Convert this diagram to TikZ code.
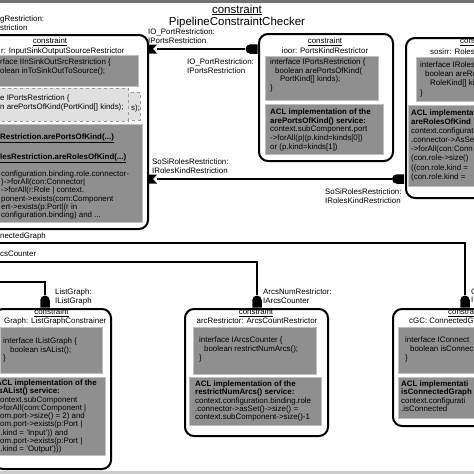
\documentclass[tikz,border=0pt]{standalone}
\usepackage{fontspec}
\setmainfont{Liberation Sans}
\usetikzlibrary{shapes.misc}
\definecolor{boxgray}{RGB}{143,143,143}

\begin{document}
\begin{tikzpicture}[
x=1pt, y=-1pt,
comp/.style={%
    rectangle, anchor=north west, inner sep=0pt,
    draw=black, line width=2pt, rounded corners=9pt, fill=white,
},
iface/.style={%
    rectangle, anchor=north west, inner sep=0pt,
    draw=black!25, line width=0.8pt, fill=boxgray,
},
dashbox/.style={%
    rectangle, anchor=north west, inner sep=0pt,
    draw=black!40, dashed, line width=0.8pt, fill=black!12,
},
txt/.style={inner sep=0pt, font=\fontsize{7.9}{8.7}\selectfont},
code/.style={txt, anchor=north west, align=left},
title/.style={inner sep=0pt, font=\fontsize{11.5}{13}\selectfont},
ball/.style={%
    rounded rectangle, rounded rectangle right arc=none,
    fill=black, inner sep=0pt, minimum width=12pt, minimum height=9.5pt,
},
wire/.style={draw=black, line width=2pt},
]
\useasboundingbox (0,0) rectangle (474,474);
\clip (0,0) rectangle (474,474);
\fill[black!55] (0,0) rectangle (474,2.5);
\fill[black!20] (0,471) rectangle (474,474);

% Nodes
\node[title]    at (237,10)     (ckw)           {\underline{constraint}};
\node[title]    at (237,23)     (checker)       {PipelineConstraintChecker};
\node[code]     at (0,15.5)     (toplbl)        {gRestriction:\\striction};

% left component
\node[comp, minimum width=194pt, minimum height=194pt] at (-47,34) (issor) {};
\node[txt]      at (50,42)      (issorkw)       {\underline{constraint}};
\node[txt, anchor=west] at (1,51) (issorname)   {r: InputSinkOutputSourceRestrictor};
\node[iface, minimum width=178pt, minimum height=31pt] at (-40,55) (issorif) {};
\node[code]     at (0,58.5)     (issoriftxt)    {rface IInSinkOutSrcRestriction \{\\olean inToSinkOutToSource();};
\node[dashbox, minimum width=170pt, minimum height=28pt] at (-30,92) (issorpr2) {};
\node[code]     at (131,104.5)  (issorpr2txt)   {s);};
\node[dashbox, minimum width=168pt, minimum height=33pt] at (-40,88) (issorpr) {};
\node[code]     at (0,94.5)     (issorprtxt)    {e IPortsRestriction \{\\n arePortsOfKind(PortKind[] kinds);};
\node[iface, minimum width=182pt, minimum height=98pt] at (-40,124) (issoracl) {};
\node[code]     at (0,133.5)    (issorsrv1)     {\textbf{\underline{Restriction.arePortsOfKind(...)}}};
\node[code]     at (0,153.5)    (issorsrv2)     {\textbf{\underline{lesRestriction.areRolesOfKind(...)}}};
\node[code, font=\fontsize{7.9}{8.2}\selectfont] at (1,170.5) (issorimpl) {configuration.binding.role.connector-\\)->forAll(con:Connector|\\->forAll(r:Role | context.\\ponent->exists(com:Component\\ert->exists(p:Port|(r in\\configuration.binding) and ...};

% ioor component
\node[comp, minimum width=134pt, minimum height=127pt] at (258,33) (ioor) {};
\node[txt]      at (325,42)     (ioorkw)        {\underline{constraint}};
\node[txt]      at (325,51)     (ioorname)      {ioor: PortsKindRestrictor};
\node[iface, minimum width=113pt, minimum height=44pt] at (265,56) (ioorif) {};
\node[code]     at (270,58.5)   (iooriftxt)     {interface IPortsRestriction \{\\\hspace*{5pt}boolean arePortsOfKind(\\\hspace*{10pt}PortKind[] kinds);\\\}};
\node[iface, minimum width=118pt, minimum height=50pt] at (265,104) (iooracl) {};
\node[code]     at (270,108.5)  (iooracltxt)    {\textbf{ACL implementation of the}\\\textbf{arePortsOfKind() service:}\\context.subComponent.port\\->forAll(p|(p.kind=kinds[0])\\or (p.kind=kinds[1])};

% sosirr component
\node[comp, minimum width=150pt, minimum height=160pt] at (405,37) (sosirr) {};
\node[txt, anchor=west] at (460,42) (sosirrkw)  {\underline{const}};
\node[txt, anchor=west] at (430,52) (sosirrname) {sosirr: RolesK};
\node[iface, minimum width=144pt, minimum height=44pt] at (416,57) (sosirrif) {};
\node[code, font=\fontsize{7.9}{9.2}\selectfont] at (420,61.5) (sosirriftxt) {interface IRoles\\\hspace*{5pt}boolean areRo\\\hspace*{10pt}RoleKind[] ki\\\}};
\node[iface, minimum width=152pt, minimum height=81pt] at (408,105) (sosirracl) {};
\node[code, font=\fontsize{7.9}{9.1}\selectfont] at (411,109.5) (sosirracltxt) {\textbf{ACL implementa}\\\textbf{areRolesOfKind}\\context.configurat\\.connector->AsSe\\->forAll(con:Conn\\(con.role->size()\\((con.role.kind = \\(con.role.kind = };

% port labels
\node[code]     at (148,28.5)   (iolblL)        {IO\_PortRestriction:\\IPortsRestriction};
\node[code]     at (187,58.5)   (iolblR)        {IO\_PortRestriction:\\IPortsRestriction};
\node[code]     at (152,158.5)  (solblL)        {SoSiRolesRestriction:\\IRolesKindRestriction};
\node[code]     at (325,188.5)  (solblR)        {SoSiRolesRestriction:\\IRolesKindRestriction};
\node[txt, anchor=west] at (0,236) (cglbl)      {nectedGraph};
\node[txt, anchor=west] at (0,254) (aclbl)      {csCounter};

% lgc component
\node[comp, minimum width=117pt, minimum height=160pt] at (-7,308) (lgc) {};
\node[txt]      at (51.5,313)   (lgckw)         {\underline{constraint}};
\node[txt, anchor=east] at (106.5,321) (lgcname) {Graph: ListGraphConstrainer};
\node[iface, minimum width=102pt, minimum height=46pt] at (0,327) (lgcif) {};
\node[code]     at (3,337.5)    (lgciftxt)      {interface IListGraph \{\\\hspace*{7pt}boolean isAList();\\\}};
\node[iface, minimum width=108pt, minimum height=78pt] at (-3,377) (lgcacl) {};
\node[code, font=\fontsize{7.9}{8.3}\selectfont] at (-4,379.5) (lgcacltxt) {\textbf{ACL implementation of the}\\\textbf{isAList() service:}\\context.subComponent\\->forAll(com:Component |\\com.port->size() = 2) and\\com.port->exists(p:Port |\\p.kind = 'Input')) and\\com.port->exists(p:Port |\\p.kind = 'Output')))};
\node[code]     at (55,288.5)   (lgclbl)        {ListGraph:\\IListGraph};

% arcRestrictor component
\node[comp, minimum width=143pt, minimum height=127pt] at (184,308) (arc) {};
\node[txt]      at (256,313)    (arckw)         {\underline{constraint}};
\node[txt]      at (257,321)    (arcname)       {arcRestrictor: ArcsCountRestrictor};
\node[iface, minimum width=123pt, minimum height=47pt] at (193,327) (arcif) {};
\node[code]     at (199,337)    (arciftxt)      {interface IArcsCounter \{\\\hspace*{5pt}boolean restrictNumArcs();\\\}};
\node[iface, minimum width=132pt, minimum height=48pt] at (189,377) (arcacl) {};
\node[code, font=\fontsize{7.9}{8.3}\selectfont] at (195,380.5) (arcacltxt) {\textbf{ACL implementation of the}\\\textbf{restrictNumArcs() service:}\\context.configuration.binding.role\\.connector->asSet()->size() =\\context.subComponent->size()-1};
\node[code]     at (263,288.5)  (arclbl)        {ArcsNumRestrictor:\\IArcsCounter};

% cGC component
\node[comp, minimum width=162pt, minimum height=117pt] at (392,308) (cgc) {};
\node[txt, anchor=west] at (448,313) (cgckw)    {\underline{constra}};
\node[txt, anchor=west] at (409,321) (cgcname)  {cGC: ConnectedGr};
\node[iface, minimum width=160pt, minimum height=46pt] at (398,327) (cgcif) {};
\node[code]     at (405,337)    (cgciftxt)      {interface IConnect\\\hspace*{5pt}boolean isConnec\\\}};
\node[iface, minimum width=162pt, minimum height=41pt] at (398,377) (cgcacl) {};
\node[code, font=\fontsize{7.9}{8.3}\selectfont] at (401,380.5) (cgcacltxt) {\textbf{ACL implementati}\\\textbf{isConnectedGraph}\\context.configurati\\.isConnected};
\node[code]     at (471,288.5)  (cgclbl)        {C\\I};

% sockets
\node[ball]             at (251.5,49)   (iosocket)  {};
\node[ball]             at (398,179)    (sosocket)  {};
\node[ball, rotate=-90] at (45,301.5)   (lgsocket)  {};
\node[ball, rotate=-90] at (257,301.5)  (arcsocket) {};
\node[ball, rotate=-90] at (465,301.5)  (cgsocket)  {};
\coordinate (ioport) at (157,49);
\coordinate (soport) at (157,179);
\coordinate (cgstart) at (-10,243);
\coordinate (arcstart) at (-10,262);
\coordinate (lgstart) at (-10,282);

% Lines
\fill (ioport) ++(-10,-4.5) -- ++(10,0) -- ++(-4,4.5) -- ++(4,4.5) -- ++(-10,0) -- cycle;
\fill (soport) ++(-10,-4.5) -- ++(10,0) -- ++(-4,4.5) -- ++(4,4.5) -- ++(-10,0) -- cycle;
\draw[wire] (ioport) -- (iosocket);
\draw[wire] (soport) -- (sosocket);
\draw[wire] (cgstart) -| (cgsocket);
\draw[wire] (arcstart) -| (arcsocket);
\draw[wire] (lgstart) -| (lgsocket);
\end{tikzpicture}
\end{document}
